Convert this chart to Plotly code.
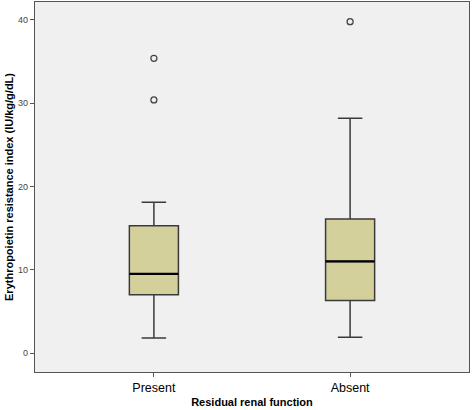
import plotly.graph_objects as go

# values
groups = ["Present", "Absent"]
q1 = [7.0, 6.3]
median = [9.5, 11.0]
q3 = [15.3, 16.1]
lower_whisker = [1.8, 1.9]
upper_whisker = [18.1, 28.2]
outlier_x = ["Present", "Present", "Absent"]
outlier_y = [35.4, 30.4, 39.8]

fig = go.Figure()

fig.add_trace(go.Box(
    x=groups, q1=q1, median=median, q3=q3,
    lowerfence=lower_whisker, upperfence=upper_whisker,
    fillcolor="#d4d09c", line=dict(color="#3a3a3a", width=1.5),
    whiskerwidth=0.5, width=0.25, boxpoints=False,
    hoverinfo="skip", showlegend=False,
))

# thicker black median line drawn over the box
fig.add_trace(go.Box(
    x=groups, q1=median, median=median, q3=median,
    lowerfence=median, upperfence=median,
    fillcolor="rgba(0,0,0,0)", line=dict(color="black", width=2.2),
    whiskerwidth=0, width=0.25, boxpoints=False,
    hoverinfo="skip", showlegend=False,
))

fig.add_trace(go.Scatter(
    x=outlier_x, y=outlier_y, mode="markers",
    marker=dict(symbol="circle-open", size=6, color="#444", line=dict(width=1.3)),
    showlegend=False,
))

fig.update_layout(
    width=472, height=410,
    margin=dict(l=35, r=3, t=2, b=38, autoexpand=False),
    paper_bgcolor="white",
    plot_bgcolor="#f0f0f0",
    font=dict(family="Liberation Sans, Arial", color="black"),
    boxmode="overlay",
)

fig.update_xaxes(
    type="category", range=[-0.606, 1.606], automargin=False,
    showline=True, linecolor="#555", linewidth=1.2, mirror=True,
    ticks="outside", ticklen=4, tickcolor="#555",
    showgrid=False, zeroline=False,
    tickfont=dict(size=12.5),
    title=dict(text="<b>Residual renal function</b>", font=dict(size=11), standoff=4),
)
fig.update_yaxes(
    range=[-2.28, 42.16], tickvals=[0, 10, 20, 30, 40], automargin=False,
    showline=True, linecolor="#555", linewidth=1.2, mirror=True,
    ticks="outside", ticklen=4, tickcolor="#555",
    showgrid=False, zeroline=False,
    tickfont=dict(size=9, color="#444"),
    title=dict(text="<b>Erythropoietin resistance index (IU/kg/g/dL)</b>",
               font=dict(size=11), standoff=2),
)

fig.write_html("out.html", config={"displayModeBar": False},
               post_script="document.body.style.margin='0';")
